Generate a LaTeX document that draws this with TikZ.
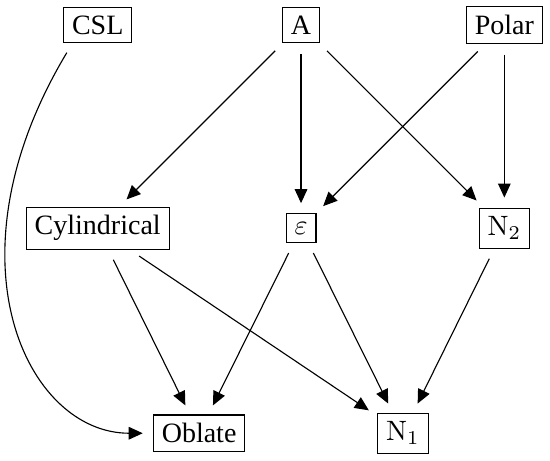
\documentclass[tikz,border=0pt]{standalone}
\usepackage[no-math]{fontspec}
\setmainfont{Liberation Serif}
\usetikzlibrary{positioning,arrows.meta}

\tikzset{
  var/.style={draw, thin, rectangle, inner sep=3pt, font=\fontsize{10}{12}\selectfont},
  link/.style={thin, -{Triangle[length=5pt,width=4.5pt]}, shorten <=3.9pt, shorten >=3.6pt},
}

\begin{document}
\begin{tikzpicture}[node distance=72.6pt, on grid]
  \useasboundingbox (-107.5pt,-155.7pt) rectangle (88.9pt,8.9pt);

  % Define nodes
  \node[var]                               (A)     {A};
  \node[var, left=of A]                    (CSL)   {CSL};
  \node[var, right=of A]                   (Polar) {Polar};
  \node[var, below=of CSL]                 (cyl)   {Cylindrical};
  \node[var, below=of A]                   (eps)   {$\varepsilon$};
  \node[var, below=of Polar]               (N2)    {$\mathrm{N}_2$};
  \node[var, below=73.2pt of eps, xshift=-36.4pt] (obl) {Oblate};
  \node[var, below=73.2pt of eps, xshift=36.4pt]  (N1)  {$\mathrm{N}_1$};

  % Connect the nodes
  \foreach \src/\dst in {A/cyl, A/eps, A/N2, Polar/eps, Polar/N2,
                         cyl/obl, cyl/N1, eps/obl, eps/N1, N2/N1}
    \draw[link] (\src) -- (\dst);
  \draw[link] (CSL.216) to[out=239, in=180, out distance=90pt, in distance=45pt] (obl.west);

\end{tikzpicture}
\end{document}
